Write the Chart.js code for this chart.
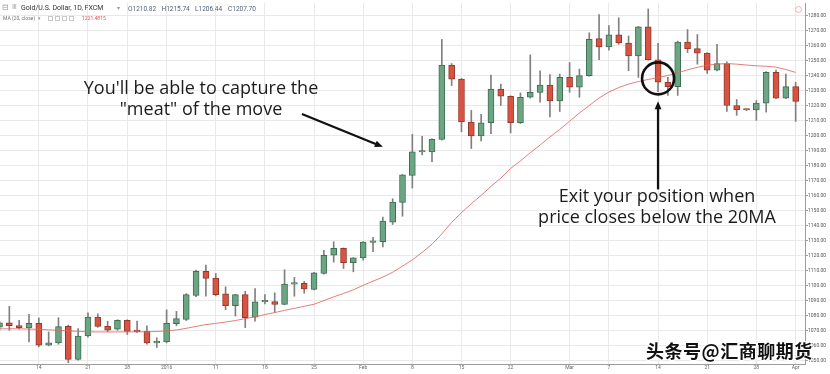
<!DOCTYPE html>
<html>
<head>
<meta charset="utf-8">
<script src="https://cdn.jsdelivr.net/npm/chart.js@4.4.1/dist/chart.umd.min.js"></script>
<style>
  html, body { margin: 0; padding: 0; background: #fff; }
  #wrap { position: relative; width: 830px; height: 374px; overflow: hidden; }
  #chart { position: absolute; left: 0; top: 0; }
  .hdr { position: absolute; font-family: Roboto, "Liberation Sans", sans-serif; white-space: nowrap; line-height: 1; }
  .note { position: absolute; font-family: "Open Sans", sans-serif; font-size: 18px; line-height: 21px; color: #1c1c1c;
          text-align: center; white-space: nowrap; transform: translateX(-50%); }
  .box { position: absolute; top: 16px; width: 5px; height: 5px; border: 1px solid #c8c8c8; box-sizing: border-box; }
  #wm { position: absolute; left: 646px; top: 337px; font-family: "Noto Sans CJK SC", sans-serif; font-weight: bold;
        font-size: 18px; letter-spacing: 0.5px; color: #111; white-space: nowrap;
        text-shadow: -1px -1px 0 #fff, 1px -1px 0 #fff, -1px 1px 0 #fff, 1px 1px 0 #fff, 0 0 2px #fff; }
</style>
</head>
<body>
<div id="wrap">
  <canvas id="chart" width="830" height="374"></canvas>

  <span class="hdr" style="left:2px;top:4px;font-size:8px;color:#999;">⊟</span>
  <span class="hdr" style="left:12px;top:4px;font-size:7px;color:#aaa;">Ⅲ</span>
  <span class="hdr" style="left:21px;top:5px;font-size:7px;color:#333;">Gold/U.S. Dollar, 1D, FXCM</span>
  <span class="hdr" style="left:117px;top:5px;font-size:6px;color:#999;">▾</span>
  <span class="hdr" style="left:128px;top:5.5px;font-size:6.5px;color:#51607a;">O1210.82</span>
  <span class="hdr" style="left:161.5px;top:5.5px;font-size:6.5px;color:#51607a;">H1215.74</span>
  <span class="hdr" style="left:195px;top:5.5px;font-size:6.5px;color:#51607a;">L1206.44</span>
  <span class="hdr" style="left:228px;top:5.5px;font-size:6.5px;color:#51607a;">C1207.70</span>

  <span class="hdr" style="left:3px;top:16px;font-size:5px;color:#777;">MA (20, close)</span>
  <span class="hdr" style="left:38px;top:16px;font-size:5px;color:#999;">▾</span>
  <span class="box" style="left:48px;"></span>
  <span class="box" style="left:55px;"></span>
  <span class="box" style="left:62px;"></span>
  <span class="box" style="left:69px;"></span>
  <span class="hdr" style="left:82px;top:16px;font-size:5px;color:#e05252;">1221.4815</span>

  <span style="position:absolute;left:795px;top:6px;width:7px;height:7px;border:1px solid #eab1b1;border-radius:50%;box-sizing:border-box;"></span>

  <div class="note" style="left:201px;top:76.5px;">You'll be able to capture the<br>"meat" of the move</div>
  <div class="note" style="left:657px;top:185px;">Exit your position when<br>price closes below the 20MA</div>

  <div id="wm">头条号@汇商聊期货</div>
</div>

<script>
// trading days, Dec 8 2015 .. Apr 1 2016
const dates = [
  '2015-12-08','2015-12-09','2015-12-10','2015-12-11','2015-12-14','2015-12-15','2015-12-16','2015-12-17','2015-12-18','2015-12-21',
  '2015-12-22','2015-12-23','2015-12-24','2015-12-28','2015-12-29','2015-12-30','2015-12-31','2016-01-04','2016-01-05','2016-01-06',
  '2016-01-07','2016-01-08','2016-01-11','2016-01-12','2016-01-13','2016-01-14','2016-01-15','2016-01-18','2016-01-19','2016-01-20',
  '2016-01-21','2016-01-22','2016-01-25','2016-01-26','2016-01-27','2016-01-28','2016-01-29','2016-02-01','2016-02-02','2016-02-03',
  '2016-02-04','2016-02-05','2016-02-08','2016-02-09','2016-02-10','2016-02-11','2016-02-12','2016-02-15','2016-02-16','2016-02-17',
  '2016-02-18','2016-02-19','2016-02-22','2016-02-23','2016-02-24','2016-02-25','2016-02-26','2016-02-29','2016-03-01','2016-03-02',
  '2016-03-03','2016-03-04','2016-03-07','2016-03-08','2016-03-09','2016-03-10','2016-03-11','2016-03-14','2016-03-15','2016-03-16',
  '2016-03-17','2016-03-18','2016-03-21','2016-03-22','2016-03-23','2016-03-24','2016-03-25','2016-03-28','2016-03-29','2016-03-30',
  '2016-03-31','2016-04-01'
];

const opens = [
  1072, 1075, 1073.2, 1071.6, 1074.7, 1060.1, 1061.6, 1072.6, 1050.6, 1066.2,
  1078.8, 1072.6, 1070.7, 1076.6, 1069.8, 1069.3, 1061.6, 1062.3, 1074.4, 1077.3,
  1093.2, 1109.3, 1104.9, 1094.3, 1086.4, 1093.8, 1078.8, 1089, 1089.2, 1087.2,
  1100.8, 1101.3, 1097.3, 1107.9, 1120.1, 1124.7, 1115.2, 1118.3, 1128.7, 1129.1,
  1142.2, 1155.4, 1173.3, 1189, 1189.1, 1197.3, 1246.9, 1237.6, 1209, 1199.7,
  1208.5, 1231, 1226.2, 1208.5, 1225.5, 1228.8, 1233.7, 1223.1, 1238.8, 1232.2,
  1239.9, 1264.6, 1259.1, 1267.2, 1261.7, 1253.1, 1272.5, 1250.5, 1235.5, 1232.6,
  1262.4, 1258, 1254.9, 1243.6, 1248, 1220, 1217.2, 1217.1, 1221.6, 1242.1,
  1224.9, 1232.6
];
const highs = [
  1076, 1086, 1076.6, 1080.6, 1078.2, 1068.9, 1078.4, 1073.5, 1071.1, 1081.7,
  1081, 1076, 1077, 1077, 1076.2, 1073, 1065, 1083.7, 1082.6, 1094.5,
  1110.2, 1113.5, 1107.9, 1099, 1094, 1096, 1097.8, 1093.8, 1095, 1110.4,
  1105.3, 1102.6, 1108.6, 1123.4, 1129.1, 1125, 1118.5, 1129.2, 1132, 1145.6,
  1157.8, 1174, 1200.8, 1199.5, 1197.8, 1264.1, 1248, 1238, 1216.7, 1214.1,
  1240.3, 1234.3, 1226.5, 1228.4, 1253.8, 1243.2, 1240.6, 1241, 1248.7, 1244.3,
  1268.5, 1280.7, 1273.4, 1278.5, 1266.4, 1272.8, 1284.4, 1261.5, 1238.8, 1263,
  1270.7, 1267.4, 1255.3, 1260.8, 1249.2, 1224, 1217.6, 1223.3, 1242.6, 1243.6,
  1241, 1235.5
];
const lows = [
  1070, 1070, 1070.7, 1062.2, 1059, 1059.6, 1060.7, 1048.4, 1050, 1065.4,
  1072, 1069, 1070, 1067.2, 1068.5, 1060.7, 1058.5, 1061.6, 1073, 1076.5,
  1092.5, 1092.7, 1093, 1083.7, 1079.5, 1071.8, 1076, 1087.6, 1082, 1087,
  1092.7, 1094.7, 1097, 1107.5, 1115.5, 1111.2, 1109, 1116.8, 1122.5, 1125.6,
  1140.6, 1146.1, 1164.9, 1187, 1182.5, 1197, 1233.3, 1202.4, 1191.3, 1196.4,
  1201.2, 1220, 1201.7, 1208, 1224.9, 1222.2, 1212.3, 1216, 1228.8, 1225.5,
  1239.5, 1250.5, 1257, 1260.8, 1243.2, 1238.8, 1250.3, 1229.3, 1226.7, 1226.7,
  1255.3, 1247.6, 1241.4, 1243, 1216, 1213.4, 1216.6, 1210.1, 1215.6, 1224.5,
  1224.5, 1209.4
];
const closes = [
  1075, 1073, 1071.8, 1074.7, 1060, 1061.6, 1072.4, 1050.6, 1066.2, 1078.8,
  1072.6, 1070, 1076.6, 1069.3, 1069.1, 1061.6, 1062.7, 1074.7, 1077.8, 1093.8,
  1109.3, 1104.6, 1093.8, 1086.4, 1093.8, 1078.4, 1089, 1089.3, 1087.2, 1100.9,
  1101.2, 1097.6, 1108.4, 1120.1, 1124.7, 1115.2, 1118.3, 1128.9, 1129.3, 1142.8,
  1155.6, 1173.7, 1189.1, 1189.5, 1197.5, 1246.9, 1237.6, 1209, 1199.7, 1208.5,
  1231, 1226.2, 1208.5, 1225.5, 1228.8, 1233.7, 1223.1, 1238.8, 1232.2, 1239.9,
  1264.1, 1259.1, 1267.2, 1261.7, 1253.1, 1272.5, 1250.5, 1235.5, 1232.6, 1262.4,
  1258, 1254.9, 1243.6, 1248, 1220, 1217.1, 1217, 1221.6, 1242.1, 1224.9,
  1232.6, 1222.7
];
// MA (20, close)
const ma20 = [
  1071, 1071, 1071, 1070.8, 1070.6, 1070.3, 1070, 1069.6, 1069.3, 1069,
  1068.9, 1068.9, 1068.9, 1069, 1069, 1069, 1069.2, 1069.6, 1070.2, 1071.3,
  1072.6, 1073.8, 1074.6, 1075.5, 1076.5, 1077.8, 1079, 1080.5, 1081.8, 1083.3,
  1084.6, 1086, 1087.4, 1089.8, 1092.3, 1094.6, 1097, 1100, 1102.8, 1105.5,
  1108.7, 1112.8, 1117, 1122, 1127.4, 1134.3, 1142, 1148.5, 1154.5, 1160,
  1166, 1171.5, 1178, 1183, 1188.5, 1193.6, 1199, 1204, 1209.5, 1215,
  1220, 1225, 1229, 1232, 1234.3, 1236, 1237.4, 1238.6, 1240, 1241.8,
  1243.8, 1245.5, 1246.9, 1247.6, 1248, 1247.6, 1247, 1246.5, 1246.2, 1245.6,
  1244, 1242.1
];

// x-axis labels
const tickDates = ['2015-12-14','2015-12-21','2015-12-28','2016-01-04','2016-01-11','2016-01-18','2016-01-25','2016-02-01',
                   '2016-02-08','2016-02-15','2016-02-22','2016-03-01','2016-03-07','2016-03-14','2016-03-21','2016-03-28','2016-04-01'];
const tickLabels = ['14','21','28','2016','11','18','25','Feb','8','15','22','Mar','7','14','21','28','Apr'];
const priceTicks = [];
for (let v = 1050; v <= 1280; v += 10) priceTicks.push(v);

const UP = '#6ba583', UP_EDGE = '#3f6f53';
const DOWN = '#d75442', DOWN_EDGE = '#96372b';
const WICK = '#808080';

const isUp = dates.map((d, i) => closes[i] >= opens[i]);
const tickIdx = tickDates.map(d => dates.indexOf(d));

// annotation anchors (candle index, price)
const circleAt = { x: 67, y: 1238.1 };
const arrows = [
  { x0: 30.77, y0: 1214.3, x1: 39.0, y1: 1192.4 },
  { x0: 67, y0: 1164.0, x1: 67, y1: 1222.9 }
];

function drawArrow(ctx, ax, ay, bx, by) {
  const ang = Math.atan2(by - ay, bx - ax);
  const head = 8, half = 3.4;
  ctx.beginPath();
  ctx.moveTo(ax, ay);
  ctx.lineTo(bx - Math.cos(ang) * head * 0.8, by - Math.sin(ang) * head * 0.8);
  ctx.stroke();
  ctx.beginPath();
  ctx.moveTo(bx, by);
  ctx.lineTo(bx - Math.cos(ang) * head - Math.sin(ang) * half, by - Math.sin(ang) * head + Math.cos(ang) * half);
  ctx.lineTo(bx - Math.cos(ang) * head + Math.sin(ang) * half, by - Math.sin(ang) * head - Math.cos(ang) * half);
  ctx.closePath();
  ctx.fill();
}

const notesPlugin = {
  id: 'notes',
  afterDatasetsDraw(chart) {
    const { ctx, scales: { x, y } } = chart;
    ctx.save();
    ctx.strokeStyle = '#111';
    ctx.fillStyle = '#111';
    ctx.lineWidth = 2.6;
    ctx.beginPath();
    ctx.arc(x.getPixelForValue(circleAt.x), y.getPixelForValue(circleAt.y), 16, 0, Math.PI * 2);
    ctx.stroke();
    ctx.lineWidth = 2.3;
    arrows.forEach(a => drawArrow(ctx, x.getPixelForValue(a.x0), y.getPixelForValue(a.y0),
                                        x.getPixelForValue(a.x1), y.getPixelForValue(a.y1)));
    ctx.restore();
  }
};

new Chart(document.getElementById('chart'), {
  type: 'bar',
  data: {
    datasets: [
      {
        type: 'line',
        order: 0,
        data: ma20.map((v, i) => ({ x: i, y: v })),
        borderColor: 'rgba(221,104,100,0.85)',
        borderWidth: 1,
        pointRadius: 0,
        tension: 0
      },
      {
        order: 1,
        grouped: false,
        data: dates.map((d, i) => ({ x: i, y: [opens[i], closes[i]] })),
        backgroundColor: isUp.map(u => u ? UP : DOWN),
        borderColor: isUp.map(u => u ? UP_EDGE : DOWN_EDGE),
        borderWidth: 1,
        borderSkipped: false,
        barThickness: 6,
        minBarLength: 1.5
      },
      {
        order: 2,
        grouped: false,
        data: dates.map((d, i) => ({ x: i, y: [lows[i], highs[i]] })),
        backgroundColor: WICK,
        borderWidth: 0,
        barThickness: 1
      }
    ]
  },
  options: {
    responsive: false,
    animation: false,
    events: [],
    layout: { padding: 0 },
    plugins: { legend: { display: false }, tooltip: { enabled: false } },
    scales: {
      x: {
        type: 'linear',
        min: 0.05,
        max: 81.95,
        offset: false,
        grid: { offset: false, color: '#e9e9e9', drawTicks: false },
        border: { color: '#9c9c9c' },
        afterBuildTicks: s => { s.ticks = tickIdx.map(v => ({ value: v })); },
        afterFit: s => { s.height = 10; },
        ticks: {
          autoSkip: false, maxRotation: 0, padding: 1,
          color: '#666', font: { family: 'Roboto', size: 5 },
          callback: (v, i) => tickLabels[i]
        }
      },
      y: {
        type: 'linear',
        position: 'right',
        min: 1047.5,
        max: 1288.4,
        beginAtZero: false,
        grid: { color: '#e9e9e9', tickLength: 3, tickColor: '#9c9c9c' },
        border: { color: '#9c9c9c' },
        afterBuildTicks: s => { s.ticks = priceTicks.map(v => ({ value: v })); },
        afterFit: s => { s.width = 25; },
        ticks: {
          padding: 0,
          color: '#555', font: { family: 'Roboto', size: 5 },
          callback: v => v.toFixed(2)
        }
      }
    }
  },
  plugins: [notesPlugin]
});
</script>
</body>
</html>
